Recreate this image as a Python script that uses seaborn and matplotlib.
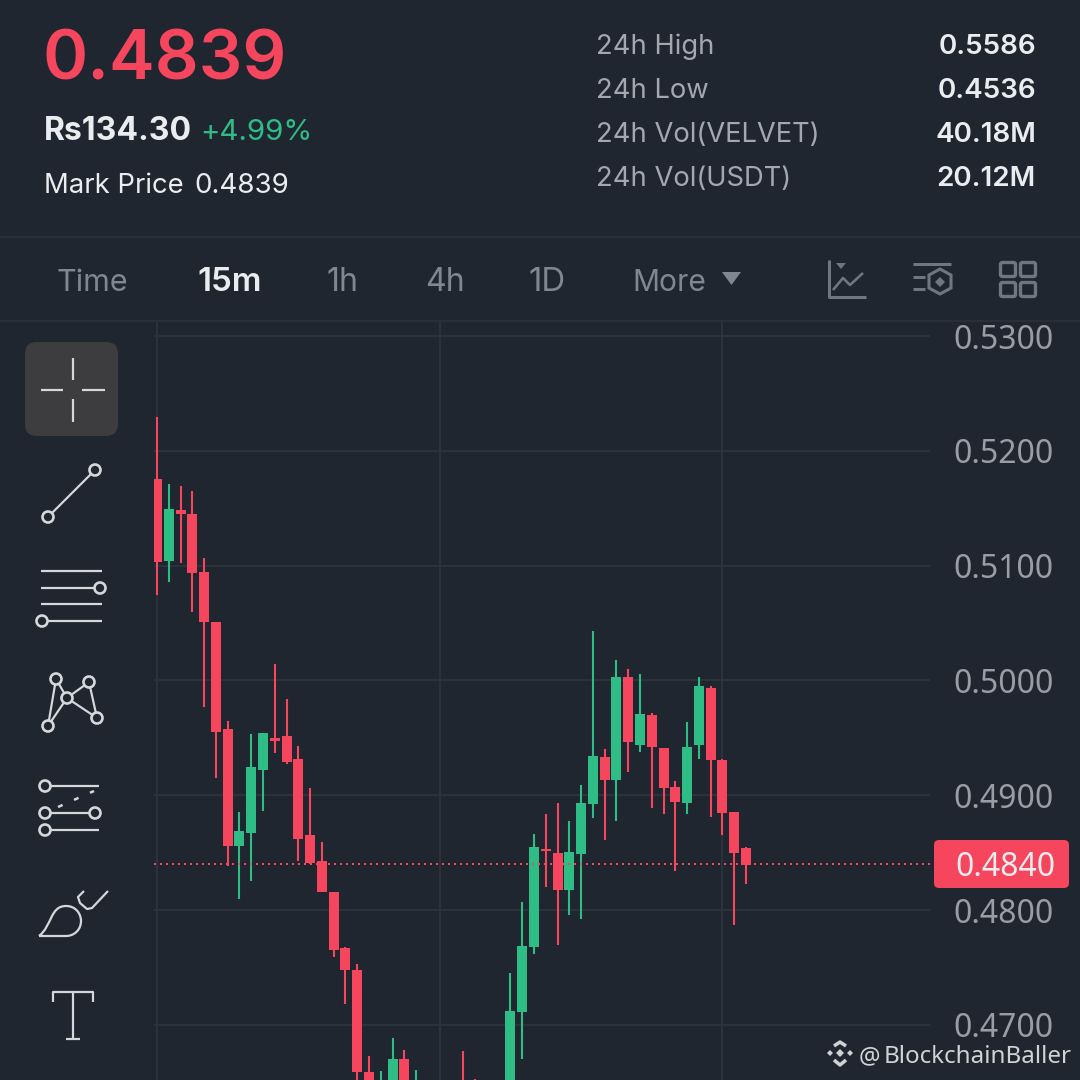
import numpy as np
import pandas as pd
import seaborn as sns
import matplotlib.pyplot as plt
from matplotlib.patches import FancyBboxPatch, Circle, PathPatch, Polygon
from matplotlib.path import Path

# candle values (anything under 0.4652 is below the crop, estimated)
opens = [0.51754, 0.5104, 0.51484, 0.5145, 0.50944, 0.50509, 0.49577, 0.48558, 0.48671, 0.4922,
         0.49499, 0.49516, 0.49316, 0.48654, 0.48427, 0.48157, 0.47669, 0.47478, 0.46589, 0.4625,
         0.464, 0.46703, 0.463, 0.463, 0.4625, 0.462, 0.464, 0.464, 0.4625, 0.463,
         0.464, 0.47112, 0.47678, 0.48532, 0.48497, 0.48175, 0.48488, 0.48924, 0.49333, 0.49133,
         0.5003, 0.49438, 0.49699, 0.49411, 0.49072, 0.48932, 0.49438, 0.49934, 0.49307, 0.48854,
         0.4854]
highs = [0.52294, 0.51711, 0.51693, 0.5165, 0.51066, 0.50509, 0.49647, 0.48854, 0.49533, 0.49542,
         0.50143, 0.49838, 0.49429, 0.49063, 0.48593, 0.48157, 0.47678, 0.4753, 0.46729, 0.46598,
         0.46886, 0.46781, 0.46607, 0.464, 0.464, 0.4635, 0.46772, 0.46528, 0.4648, 0.4645,
         0.47452, 0.4807, 0.48662, 0.48837, 0.48932, 0.48776, 0.49089, 0.50431, 0.49403, 0.50178,
         0.501, 0.50056, 0.49716, 0.49411, 0.49124, 0.49638, 0.5003, 0.49951, 0.49316, 0.48854,
         0.48549]
lows = [0.50744, 0.50857, 0.51023, 0.50596, 0.49769, 0.4915, 0.48384, 0.48096, 0.48253, 0.48863,
        0.49368, 0.49272, 0.48427, 0.48401, 0.48157, 0.47591, 0.47182, 0.46476, 0.4635, 0.4615,
        0.463, 0.464, 0.462, 0.462, 0.4615, 0.461, 0.4615, 0.462, 0.4615, 0.462,
        0.463, 0.46703, 0.47617, 0.48201, 0.47696, 0.47957, 0.47922, 0.48802, 0.4861, 0.48776,
        0.49202, 0.49377, 0.48889, 0.48837, 0.4834, 0.48837, 0.49316, 0.4881, 0.48654, 0.4787,
        0.48227]
closes = [0.51031, 0.51493, 0.5145, 0.50936, 0.50509, 0.49551, 0.48558, 0.48689, 0.49246, 0.49542,
          0.49472, 0.4929, 0.48619, 0.4841, 0.48157, 0.47652, 0.47478, 0.46589, 0.4645, 0.4645,
          0.46703, 0.465, 0.4648, 0.4625, 0.462, 0.4632, 0.4625, 0.463, 0.464, 0.464,
          0.47121, 0.47687, 0.48549, 0.48514, 0.48175, 0.48506, 0.48932, 0.49342, 0.49133, 0.5003,
          0.49464, 0.49708, 0.4942, 0.49063, 0.48941, 0.4942, 0.49951, 0.49307, 0.48845, 0.48497,
          0.48392]

price_ticks = [0.53, 0.52, 0.51, 0.50, 0.49, 0.48, 0.47]
time_ticks = [0, 24, 48]
last_price = 0.4840

stat_names = ['24h High', '24h Low', '24h Vol(VELVET)', '24h Vol(USDT)']
stat_values = ['0.5586', '0.4536', '40.18M', '20.12M']
nav_labels = ['Time', '15m', '1h', '4h', '1D', 'More']

BG = '#1f2630'
GRID = '#2b323b'
RED = '#f6465d'
GREEN = '#2ebd85'
WHITE = '#eaecef'
GREY = '#7f8792'
ICON = '#d5d7da'
ICON2 = '#6f7682'

sns.set_theme(style='darkgrid', rc={'figure.facecolor': BG, 'axes.facecolor': BG, 'grid.color': GRID,
                                    'grid.linewidth': 1.44, 'savefig.facecolor': BG})
plt.rcParams['font.family'] = ['Noto Sans', 'DejaVu Sans']

fig = plt.figure(figsize=(10.8, 10.8), dpi=100)

# price chart
ax = fig.add_axes([154 / 1080, 0, (930 - 154) / 1080, (1080 - 321) / 1080])
sides = ['up' if c >= o else 'down' for o, c in zip(opens, closes)]
idx = list(range(len(opens)))
wicks = pd.DataFrame({'i': idx * 2, 'price': lows + highs, 'side': sides * 2})
bodies = pd.DataFrame({'i': idx * 2, 'price': opens + closes, 'side': sides * 2})
pal = {'up': GREEN, 'down': RED}
sns.lineplot(data=wicks, x='i', y='price', hue='side', units='i', estimator=None, sort=False, palette=pal,
             linewidth=1.5, solid_capstyle='butt', legend=False, ax=ax)
sns.lineplot(data=bodies, x='i', y='price', hue='side', units='i', estimator=None, sort=False, palette=pal,
             linewidth=7.2, solid_capstyle='butt', legend=False, ax=ax)
ax.axhline(last_price, color=RED, lw=1.44, ls=(0, (1, 2)), zorder=5)

ax.set_xlim(-0.2547, 65.62)
ax.set_ylim(0.4652, 0.53131)
ax.set_xticks(time_ticks)
ax.set_xticklabels([])
ax.set_yticks(price_ticks)
ax.set_yticklabels([f'{p:.4f}' for p in price_ticks])
ax.yaxis.tick_right()
ax.tick_params(axis='y', length=0, pad=17, labelsize=23, labelcolor='#9a9da3')
ax.tick_params(axis='x', length=0)
ax.set_xlabel('')
ax.set_ylabel('')
for s in ax.spines.values():
    s.set_visible(False)
ax.set_axisbelow(True)

# overlay in pixel coordinates for the app chrome
ov = fig.add_axes([0, 0, 1, 1], zorder=10)
ov.set_xlim(0, 1080)
ov.set_ylim(1080, 0)
ov.axis('off')


def txt(x, y, s, px, color=WHITE, weight='normal', ha='left', family='Inter'):
    ov.text(x, y, s, fontsize=px * 0.72, color=color, fontweight=weight, ha=ha, va='baseline', family=family)


def stroke(xs, ys, color=ICON, w=2.2, **kw):
    ov.plot(xs, ys, color=color, lw=w * 0.72, solid_capstyle='butt', **kw)


def ring(x, y, r=5.5, color=ICON):
    ov.add_patch(Circle((x, y), r, fc=BG, ec=color, lw=1.9, zorder=4))


txt(43, 79, '0.4839', 68.5, RED, 'semibold')
txt(44, 140, 'Rs134.30', 32, WHITE, 'bold')
txt(200, 140, '+4.99%', 29.5, GREEN, 'normal')
txt(44, 193, 'Mark Price', 27.5, WHITE)
txt(194, 193, '0.4839', 27.8, WHITE)

for y, name, val in zip([54, 98, 142, 186], stat_names, stat_values):
    txt(596, y, name, 27.4, '#a3a8b0')
    txt(1036, y, val, 27.8, WHITE, 'semibold', ha='right')

stroke([0, 1080], [237, 237], GRID, 1.5)
stroke([0, 1080], [321, 321], GRID, 1.5)

for x, lab, size in zip([56, 197, 327, 425, 529, 632], nav_labels, [30.5, 33, 32, 32, 33, 30]):
    if lab == '15m':
        txt(x, 291, lab, size, WHITE, 'semibold')
    else:
        txt(x, 291, lab, size, GREY)
ov.add_patch(Polygon([(722, 272), (741, 272), (731.5, 285)], fc=GREY, ec='none'))

# top right icons
stroke([829, 829, 866], [260, 297, 297], ICON2, 3)
ov.add_patch(Polygon([(836, 263), (846, 263), (841, 269)], fc=ICON2, ec='none'))
stroke([833, 843, 850, 863], [290, 278, 285, 273], ICON2, 2.6)
stroke([913, 951], [264, 264], ICON2, 3)
stroke([913, 925], [277, 277], ICON2, 3)
stroke([913, 925], [289, 289], ICON2, 3)
ov.add_patch(Polygon([(940, 269), (951, 275), (951, 288), (940, 294), (929, 288), (929, 275)],
                     closed=True, fc='none', ec=ICON2, lw=2.2))
ov.add_patch(Polygon([(940, 277), (945, 282), (940, 287), (935, 282)], fc=ICON2, ec='none'))
for x0 in (1000.5, 1020.5):
    for y0 in (262.5, 282.5):
        ov.add_patch(FancyBboxPatch((x0 + 2, y0 + 2), 11, 10, boxstyle='round,pad=2,rounding_size=2',
                                    fc='none', ec=ICON2, lw=2.4))

# left toolbar
ov.add_patch(FancyBboxPatch((37, 354), 69, 70, boxstyle='round,pad=12,rounding_size=12', fc='#3d3d3f', ec='none'))
stroke([73, 73], [358, 380])
stroke([73, 73], [399, 422])
stroke([41, 63], [390, 390])
stroke([82, 105], [390, 390])

stroke([48, 95], [517, 470])
ring(95, 470)
ring(48, 517)

stroke([41, 102], [571, 571])
stroke([41, 100], [588, 588])
stroke([41, 102], [604, 604])
stroke([42, 102], [621, 621])
ring(100, 588)
ring(42, 621)

net = {'a': (56, 679), 'b': (89, 682), 'c': (67, 698), 'd': (48, 726), 'e': (97, 718)}
for p, q in ['ac', 'bc', 'cd', 'ce', 'ad', 'be']:
    stroke([net[p][0], net[q][0]], [net[p][1], net[q][1]])
for p in net.values():
    ring(*p)

stroke([45, 99], [786, 786])
stroke([45, 95], [813, 813])
stroke([45, 99], [830, 830])
ov.plot([58, 94], [807, 791], color=ICON, lw=1.8, ls=(0, (2, 5)))
for p in [(45, 786), (45, 813), (95, 813), (45, 830)]:
    ring(*p)

leaf = Path([(39, 936), (52, 926), (50, 906), (66, 906), (76, 906), (81, 914), (81, 921), (81, 930), (74, 936), (66, 936),
             (39, 936)],
            [Path.MOVETO, Path.CURVE4, Path.CURVE4, Path.CURVE4, Path.CURVE4, Path.CURVE4, Path.CURVE4,
             Path.CURVE4, Path.CURVE4, Path.CURVE4, Path.LINETO])
ov.add_patch(PathPatch(leaf, fc='none', ec=ICON, lw=1.6))
stroke([84, 78, 80, 87, 92, 108], [891, 897, 903, 909, 908, 891])

stroke([53, 53, 93, 93], [1002, 992, 992, 1002])
stroke([73, 73], [992, 1039])
stroke([66, 80], [1039, 1039])

# last price tag
ov.add_patch(FancyBboxPatch((938, 844), 127, 40, boxstyle='round,pad=4,rounding_size=5', fc=RED, ec='none'))
txt(955, 876, f'{last_price:.4f}', 32, WHITE, family='Noto Sans')

# watermark
wm = '#d0d3d6'
ov.add_patch(Polygon([(840, 1049), (844, 1053), (840, 1057), (836, 1053)], fc=wm, ec='none'))
ov.add_patch(Polygon([(830, 1050), (833, 1053), (830, 1056), (827, 1053)], fc=wm, ec='none'))
ov.add_patch(Polygon([(850, 1050), (853, 1053), (850, 1056), (847, 1053)], fc=wm, ec='none'))
stroke([834, 840, 846], [1046, 1042, 1046], wm, 3.5)
stroke([834, 840, 846], [1060, 1065, 1060], wm, 3.5)
txt(859, 1063, '@', 24, wm, family='Noto Sans')
txt(884, 1063, 'BlockchainBaller', 24.2, wm, family='Noto Sans')

fig.savefig('out.png', dpi=100)
